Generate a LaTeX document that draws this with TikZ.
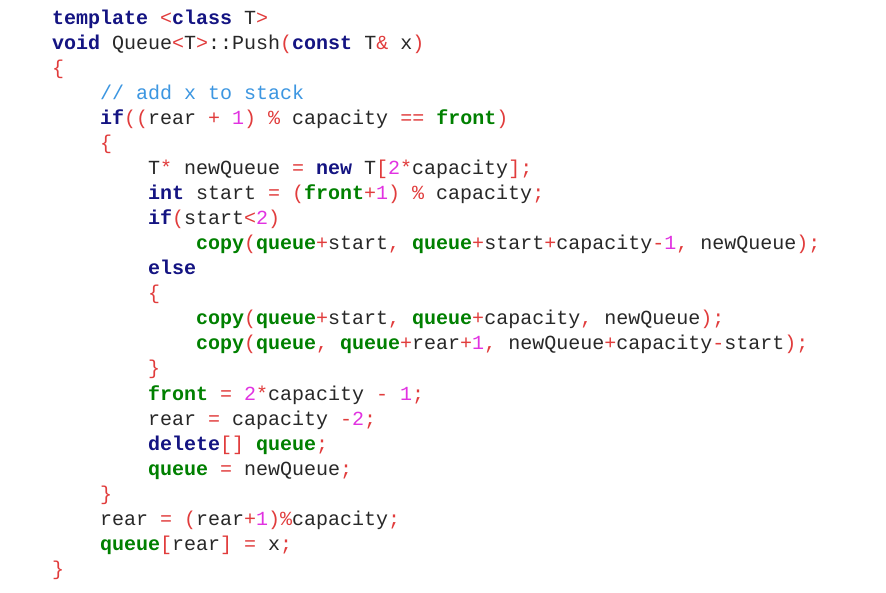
\documentclass[tikz,border=0pt]{standalone}
\usepackage{fontspec}
\setmonofont{Liberation Mono}
\definecolor{kw}{RGB}{20,20,130}
\definecolor{gr}{RGB}{0,128,0}
\definecolor{op}{RGB}{225,60,60}
\definecolor{nm}{RGB}{225,50,225}
\definecolor{cm}{RGB}{60,150,225}
\definecolor{tx}{RGB}{40,40,40}
\newcommand\K[1]{\textcolor{kw}{\bfseries #1}}
\newcommand\G[1]{\textcolor{gr}{\bfseries #1}}
\newcommand\OP[1]{\textcolor{op}{#1}}
\newcommand\N[1]{\textcolor{nm}{#1}}
\newcommand\CM[1]{\textcolor{cm}{#1}}
\tikzset{codeline/.style={anchor=base west,inner sep=0pt,font=\fontsize{20}{20}\selectfont\ttfamily,text=tx}}
\begin{document}
\begin{tikzpicture}[x=1pt,y=-1pt]
\useasboundingbox[fill=white] (0,0) rectangle (886,593);
\node[codeline] (l0) at (52,25) {\K{template} \OP{<}\K{class} T\OP{>}};
\node[codeline] (l1) at (52,50) {\K{void} Queue\OP{<}T\OP{>}::Push\OP{(}\K{const} T\OP{\&} x\OP{)}};
\node[codeline] (l2) at (52,75) {\OP{\{}};
\node[codeline] (l3) at (100,100) {\CM{// add x to stack}};
\node[codeline] (l4) at (100,125) {\K{if}\OP{((}rear \OP{+} \N{1}\OP{)} \OP{\%} capacity \OP{==} \G{front}\OP{)}};
\node[codeline] (l5) at (100,150) {\OP{\{}};
\node[codeline] (l6) at (148,175) {T\OP{*} newQueue \OP{=} \K{new} T\OP{[}\N{2}\OP{*}capacity\OP{];}};
\node[codeline] (l7) at (148,200) {\K{int} start \OP{=} \OP{(}\G{front}\OP{+}\N{1}\OP{)} \OP{\%} capacity\OP{;}};
\node[codeline] (l8) at (148,225) {\K{if}\OP{(}start\OP{<}\N{2}\OP{)}};
\node[codeline] (l9) at (196,250) {\G{copy}\OP{(}\G{queue}\OP{+}start\OP{,} \G{queue}\OP{+}start\OP{+}capacity\OP{-}\N{1}\OP{,} newQueue\OP{);}};
\node[codeline] (l10) at (148,275) {\K{else}};
\node[codeline] (l11) at (148,300) {\OP{\{}};
\node[codeline] (l12) at (196,325) {\G{copy}\OP{(}\G{queue}\OP{+}start\OP{,} \G{queue}\OP{+}capacity\OP{,} newQueue\OP{);}};
\node[codeline] (l13) at (196,350) {\G{copy}\OP{(}\G{queue}\OP{,} \G{queue}\OP{+}rear\OP{+}\N{1}\OP{,} newQueue\OP{+}capacity\OP{-}start\OP{);}};
\node[codeline] (l14) at (148,375) {\OP{\}}};
\node[codeline] (l15) at (148,400) {\G{front} \OP{=} \N{2}\OP{*}capacity \OP{-} \N{1}\OP{;}};
\node[codeline] (l16) at (148,425) {rear \OP{=} capacity \OP{-}\N{2}\OP{;}};
\node[codeline] (l17) at (148,450) {\K{delete}\OP{[]} \G{queue}\OP{;}};
\node[codeline] (l18) at (148,475) {\G{queue} \OP{=} newQueue\OP{;}};
\node[codeline] (l19) at (100,500) {\OP{\}}};
\node[codeline] (l20) at (100,525) {rear \OP{=} \OP{(}rear\OP{+}\N{1}\OP{)\%}capacity\OP{;}};
\node[codeline] (l21) at (100,550) {\G{queue}\OP{[}rear\OP{]} \OP{=} x\OP{;}};
\node[codeline] (l22) at (52,575) {\OP{\}}};
\end{tikzpicture}
\end{document}
